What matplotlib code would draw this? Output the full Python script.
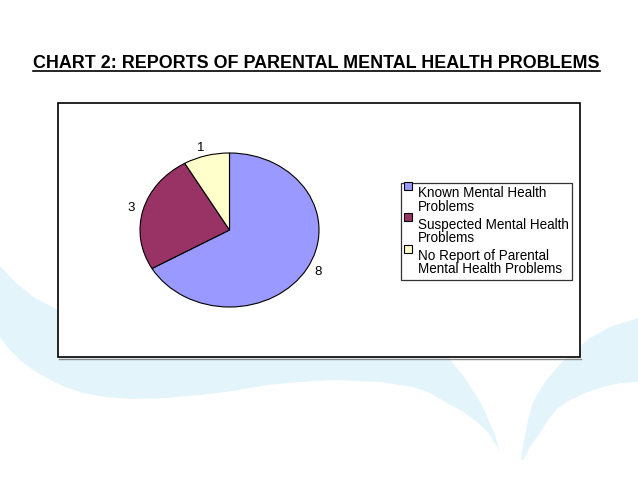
import matplotlib
matplotlib.use('Agg')
import matplotlib.pyplot as plt
from matplotlib.patches import Polygon, Rectangle
from matplotlib.legend_handler import HandlerPatch

plt.rcParams['font.family'] = ['Liberation Sans', 'DejaVu Sans']

# data
categories = ['Known Mental Health\nProblems',
              'Suspected Mental Health\nProblems',
              'No Report of Parental\nMental Health Problems']
counts = [8, 3, 1]
slice_colors = ['#9999FF', '#993366', '#FFFFCC']
title = 'CHART 2: REPORTS OF PARENTAL MENTAL HEALTH PROBLEMS'

W, H = 638, 479
fig = plt.figure(figsize=(W / 100, H / 100), dpi=100)

# full-figure axes in pixel coords for the slide decoration
bg = fig.add_axes([0, 0, 1, 1])
bg.set_xlim(0, W)
bg.set_ylim(H, 0)
bg.axis('off')

swoosh = '#E3F4FB'
big_band = [(0, 266), (15, 282), (35, 298), (58, 310), (200, 325), (350, 335), (448, 357),
            (465, 378), (482, 405), (495, 435), (502, 460),
            (499, 450), (488, 432), (477, 422), (462, 411), (447, 403), (430, 393),
            (413, 387), (380, 382), (333, 380), (300, 382), (267, 385), (233, 391),
            (200, 395), (165, 398), (133, 399), (105, 397), (83, 393), (65, 387),
            (50, 380), (33, 370), (20, 360), (8, 348), (0, 337)]
right_band = [(521, 460), (524, 440), (528, 420), (533, 402), (545, 382), (560, 364),
              (575, 350), (590, 338), (610, 327), (638, 318),
              (638, 382), (620, 383), (603, 387), (585, 393), (570, 400), (558, 408),
              (548, 420), (540, 433), (530, 447), (523, 460)]
bg.add_patch(Polygon(big_band, closed=True, facecolor=swoosh, edgecolor='none', zorder=0))
bg.add_patch(Polygon(right_band, closed=True, facecolor=swoosh, edgecolor='none', zorder=0))

# chart frame (with the faint grey shadow on its lower edge)
bg.plot([59, 581], [358.5, 358.5], color='#888888', linewidth=1.0, zorder=1)
bg.add_patch(Rectangle((58, 103), 522, 254, facecolor='white', edgecolor='black',
                       linewidth=1.2, zorder=1))

# underlined title
t = bg.text(316.5, 68, title, ha='center', va='baseline', fontweight='bold', fontsize=12)
renderer = fig.canvas.get_renderer()
bb = t.get_window_extent(renderer)
t.set_fontsize(12 * 563 / bb.width)
bb = t.get_window_extent(renderer)
bg.plot([bb.x0, bb.x1], [71, 71], color='black', linewidth=1.2)

# pie, stretched into an ellipse like the original
ax = fig.add_axes([140 / W, 1 - 307 / H, 179 / W, 154 / H])
wedges, texts = ax.pie(counts, colors=slice_colors, startangle=90, counterclock=False,
                       labels=[str(c) for c in counts], labeldistance=1.1,
                       wedgeprops=dict(edgecolor='black', linewidth=0.8),
                       textprops=dict(fontsize=9.5, color='black'))
for w in wedges:
    w.set_clip_on(False)
ax.set_aspect('auto')
ax.set_xlim(-1, 1)
ax.set_ylim(-1, 1)

# legend: small square next to the first line of each two-line label
leg_fs = 9.75
leg_ls = 0.92
line_gap = 1.09 * leg_fs * leg_ls


def first_line_square(legend, orig_handle, xdescent, ydescent, width, height, fontsize):
    return Rectangle((-xdescent, -ydescent + line_gap + 0.8), width, height)


leg = fig.legend(wedges, categories, loc='upper left', bbox_to_anchor=(401 / W, 1 - 183 / H),
                 borderaxespad=0, fontsize=leg_fs, frameon=True, fancybox=False,
                 edgecolor='#333333', framealpha=1, borderpad=0.25, handlelength=0.55,
                 handleheight=0.55, handletextpad=0.45, labelspacing=0.32,
                 handler_map={w: HandlerPatch(patch_func=first_line_square) for w in wedges})
leg.get_frame().set_linewidth(0.9)
for txt in leg.get_texts():
    txt.set_linespacing(leg_ls)

fig.savefig('out.png', dpi=100)
